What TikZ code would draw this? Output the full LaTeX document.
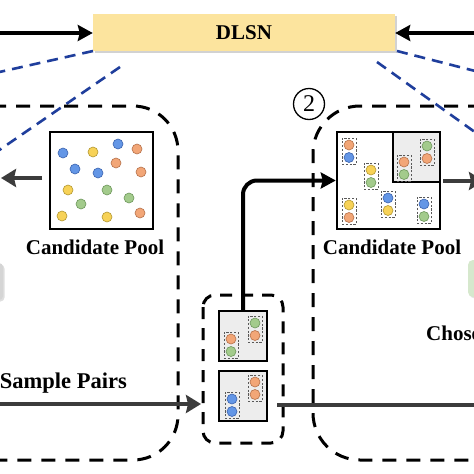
\documentclass[tikz,border=0pt]{standalone}
\usepackage{fontspec}
\setmainfont{Liberation Serif}
\usetikzlibrary{arrows.meta,shadows}
\definecolor{dlsnfill}{HTML}{FCE49E}
\definecolor{lblue}{HTML}{1F3E9C}
\definecolor{darkg}{HTML}{3C3C3C}
\definecolor{boxbg}{HTML}{EDEDED}
\definecolor{cB}{HTML}{6396E6}\definecolor{cBd}{HTML}{3B63AE}
\definecolor{cY}{HTML}{F7D257}\definecolor{cYd}{HTML}{B39832}
\definecolor{cO}{HTML}{F2A677}\definecolor{cOd}{HTML}{B5714A}
\definecolor{cG}{HTML}{A3CB8C}\definecolor{cGd}{HTML}{6D975B}
\definecolor{gbox}{HTML}{D6E8CD}
\tikzset{
  dotbase/.style={circle,inner sep=0pt,minimum size=10pt,line width=0.6pt},
  dotB/.style={dotbase,fill=cB,draw=cBd},
  dotY/.style={dotbase,fill=cY,draw=cYd},
  dotO/.style={dotbase,fill=cO,draw=cOd},
  dotG/.style={dotbase,fill=cG,draw=cGd},
  pairst/.style={draw=black!65,dash pattern=on 2.2pt off 1.6pt,line width=0.8pt,minimum width=14pt,minimum height=26pt,inner sep=0pt},
  poolbox/.style={draw=black,line width=2.5pt,minimum width=103pt,minimum height=97pt,inner sep=0pt},
  smallbox/.style={draw=black,line width=2pt,fill=boxbg,minimum width=48pt,minimum height=50pt,inner sep=0pt},
  bigdash/.style={line width=3pt,dash pattern=on 14pt off 10pt},
  middash/.style={line width=3pt,dash pattern=on 12pt off 9pt},
  bluedash/.style={lblue,line width=2.6pt,dash pattern=on 11pt off 7pt},
  blkarrow/.style={line width=4pt,-{Stealth[length=15pt,width=16pt,inset=2pt]}},
  grayarrow/.style={darkg,line width=4pt,-{Stealth[length=15pt,width=18pt,inset=2pt]}},
  lbl/.style={font=\bfseries\fontsize{21}{23}\selectfont,inner sep=0pt},
}
\newcommand\pairbox[5]{%
  \node[pairst] (#1) at (#2,{#3+6.25}) {};
  \node[dot#4] (#1a) at (#2,#3) {};
  \node[dot#5] (#1b) at (#2,{#3+12.5}) {};}
\begin{document}
\begin{tikzpicture}[x=1pt,y=-1pt]
\useasboundingbox (0,0) rectangle (474,474);
\fill[white] (0,0) rectangle (474,474);
% DLSN
\node[fill=dlsnfill,minimum width=302pt,minimum height=37pt,inner sep=0pt,
  drop shadow={opacity=0.35,shadow xshift=1.5pt,shadow yshift=-1.5pt},lbl] (dlsn) at (244,32.5) {DLSN};
\coordinate (inL) at (-2,33);
\coordinate (inR) at (476,33);
\draw[blkarrow] (inL) -- (dlsn.west |- inL);
\draw[blkarrow] (inR) -- (dlsn.east |- inR);
% blue dashed lines
\coordinate (b1s) at (93,51); \coordinate (b1e) at (-5,73);
\coordinate (b2s) at (120,67); \coordinate (b2e) at (-5,153);
\coordinate (b3s) at (397,51); \coordinate (b3e) at (479,72);
\coordinate (b4s) at (377,62); \coordinate (b4e) at (479,135);
\draw[bluedash] (b1s) -- (b1e);
\draw[bluedash] (b2s) -- (b2e);
\draw[bluedash] (b3s) -- (b3e);
\draw[bluedash] (b4s) -- (b4e);
% big dashed regions
\draw[bigdash,rounded corners=45pt] (-8,106) -| (178,460) -- (-8,460);
\draw[bigdash,rounded corners=47pt] (482,106) -| (313,460) -- (482,460);
% circled 2
\node[circle,draw,fill=white,line width=1.3pt,minimum size=31pt,inner sep=0pt,font=\fontsize{24}{24}\selectfont] (two) at (309,104) {2};
% left pool
\node[poolbox] (lpool) at (101.5,180.5) {};
\foreach \c/\x/\y [count=\i] in {B/63/153,Y/93/152,B/118/144,O/137/149,B/75/169,B/98/173,O/116/163,O/141/172,Y/68/190,G/107/190,G/129/198,G/81/204,Y/62/216,Y/107/217,O/140/213}
  \node[dot\c] (lp\i) at (\x,\y) {};
\node[lbl] (lcap) at (95,247) {Candidate Pool};
\coordinate (la1) at (42,178); \coordinate (la2) at (1,178);
\draw[grayarrow] (la1) -- (la2);
% right pool
\fill[boxbg] (393,132) rectangle (440,182);
\draw[line width=2pt] (393,132) -- (393,182) -- (440,182);
\node[poolbox] (rpool) at (388.5,180.5) {};
\pairbox{p1}{349}{145}{O}{B}
\pairbox{p2}{371}{170}{Y}{G}
\pairbox{p3}{404}{162}{O}{G}
\pairbox{p4}{427}{146}{G}{O}
\pairbox{p5}{349}{205}{Y}{O}
\pairbox{p6}{388}{198}{B}{Y}
\pairbox{p7}{424}{204}{B}{G}
\node[lbl] (rcap) at (392,247) {Candidate Pool};
\coordinate (ra1) at (443,181); \coordinate (ra2) at (484,181);
\draw[grayarrow] (ra1) -- (ra2);
% partial side boxes
\node[fill=boxbg!90!black,rounded corners=4pt,minimum width=24pt,minimum height=37pt,
  drop shadow={opacity=0.25,shadow xshift=1.5pt,shadow yshift=-1.5pt}] (lside) at (-9,281.5) {};
\node[fill=gbox,rounded corners=5pt,minimum width=30pt,minimum height=37pt,
  drop shadow={opacity=0.2,shadow xshift=1.5pt,shadow yshift=-1.5pt}] (rside) at (483,278.5) {};
\node[lbl,anchor=base west] (chos) at (426,340) {Chosen};
% middle region
\draw[middash,rounded corners=12pt] (203,295) rectangle (283,443);
\node[smallbox] (mtop) at (243,336) {};
\node[smallbox] (mbot) at (243,396) {};
\pairbox{q1}{231}{339}{O}{G}
\pairbox{q2}{255}{323}{G}{O}
\pairbox{q3}{255}{382}{O}{O}
\pairbox{q4}{232}{399}{B}{B}
\draw[blkarrow,rounded corners=14pt] (mtop.north) |- (rpool.west);
% sample pairs
\node[lbl,font=\bfseries\fontsize{22.5}{24}\selectfont,anchor=base east] (spl) at (127,388) {Constructing Sample Pairs};
\coordinate (sa1) at (-5,404); \coordinate (sa2) at (201,404);
\draw[grayarrow] (sa1) -- (sa2);
\coordinate (bo1) at (277,405); \coordinate (bo2) at (480,405);
\draw[darkg,line width=4pt] (bo1) -- (bo2);
\end{tikzpicture}
\end{document}
